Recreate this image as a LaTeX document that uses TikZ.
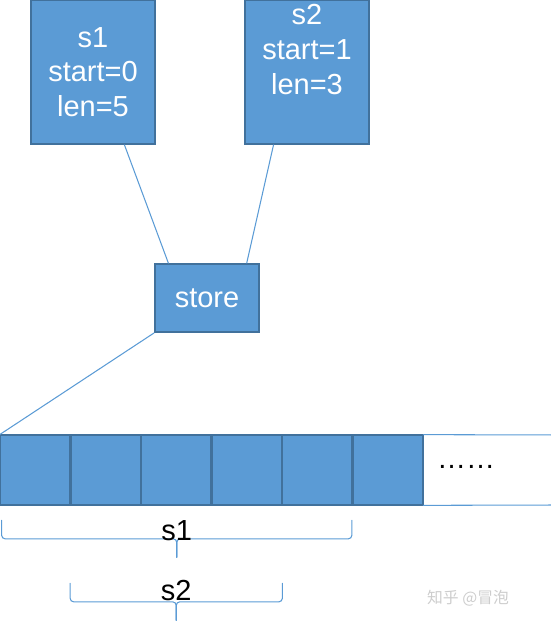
\documentclass[tikz,border=0pt]{standalone}
\usepackage{fontspec}
\setmainfont{Liberation Sans}
\newfontfamily\cjkfont{Noto Sans CJK SC}
\usepackage{xcolor}
\definecolor{myblue}{RGB}{91,155,213}
\definecolor{myedge}{RGB}{65,113,156}
\definecolor{mygray}{RGB}{205,205,205}
\usetikzlibrary{calc}
\newcommand{\MarkBrace}[4][]{
\draw[#1,rounded corners=2pt] let
\p1=(#2),\p2=(#3),\n1={(\x1+\x2)/2} in
(\x1,\y1) -- (\x1,{\y1-#4}) -- (\n1,{\y1-#4}) -- (\n1,{\y1-2*#4});
\draw[#1,rounded corners=2pt] let
\p1=(#2),\p2=(#3),\n1={(\x1+\x2)/2} in
(\x2,\y2) -- (\x2,{\y2-#4}) -- (\n1,{\y2-#4}) -- (\n1,{\y2-2*#4});}

\begin{document}
\begin{tikzpicture}[line cap=round]
	\tikzstyle{box}=[draw=myedge,fill=myblue,line width=1.1pt,inner sep=0pt,
		text=white,align=center,font=\fontsize{16.5}{19.8}\selectfont];
	\tikzstyle{cell}=[fill=myblue,inner sep=0pt,
		minimum width=\cellw,minimum height=1.4cm];
	\tikzstyle{rim}=[draw=myedge,line width=1.1pt];
	\tikzstyle{wire}=[draw=myblue,line width=0.6pt];
	\tikzstyle{tag}=[inner sep=0pt,font=\fontsize{16.5}{19.8}\selectfont];
	\newcommand{\cellw}{1.41cm}
	\useasboundingbox (0,0) rectangle (11,12.42);
	%%
	\node[box,minimum width=2.48cm,minimum height=2.88cm] (s1) at (1.86,10.98)
		{s1\\start=0\\len=5};
	\node[box,minimum width=2.48cm,minimum height=2.88cm] (s2) at (6.14,10.98)
		{s2\\start=1\\len=3\\\strut};
	\node[box,minimum width=2.08cm,minimum height=1.36cm] (store) at (4.14,6.46)
		{store};
	%%
	\foreach \i in {1,...,6}
		\node[cell] (c\i) at ({(\i-0.5)*1.41},3.02) {};
	\foreach \i in {1,...,6}
		\draw[rim] (c\i.south west) rectangle (c\i.north east);
	\coordinate (tailN) at (11.2,3.72);
	\coordinate (tailS) at (11.2,2.32);
	\draw[wire] (c6.north east) -- (tailN);
	\draw[wire] (c6.south east) -- (tailS);
	\node[tag] (dots) at (9.32,3.08) {……};
	%%
	\draw[wire] ($(s1.south west)!0.75!(s1.south east)$)
		-- ($(store.north west)!0.135!(store.north east)$);
	\draw[wire] ($(s2.south west)!0.234!(s2.south east)$)
		-- ($(store.north west)!0.875!(store.north east)$);
	\draw[wire] (store.south west) -- (c1.north west);
	%%
	\coordinate (b1L) at ($(c1.south west)+(0.04,-0.3)$);
	\coordinate (b1R) at ($(c5.south east)+(-0.02,-0.3)$);
	\coordinate (b2L) at ($(c2.south west)+(0,-1.56)$);
	\coordinate (b2R) at ($(c4.south east)+(0,-1.56)$);
	\MarkBrace[wire]{b1L}{b1R}{0.37cm}
	\MarkBrace[wire]{b2L}{b2R}{0.37cm}
	\node[tag] (l1) at ($($(b1L)!0.5!(b1R)$)+(0,-0.2)$) {s1};
	\node[tag] (l2) at ($($(b2L)!0.5!(b2R)$)+(0,-0.14)$) {s2};
	%%
	\node[text=mygray,font=\cjkfont\fontsize{9}{11}\selectfont] (mark) at (9.36,0.46)
		{知乎 @冒泡};
\end{tikzpicture}
\end{document}
